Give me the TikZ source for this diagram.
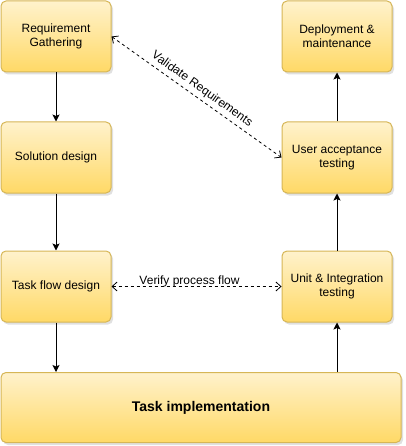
\documentclass[tikz,border=0pt]{standalone}
\usepackage{fontspec}
\setmainfont{Liberation Sans}
\usetikzlibrary{positioning,arrows.meta,shadows}
\definecolor{boxtop}{HTML}{FFF2CC}
\definecolor{boxbot}{HTML}{FFD966}
\definecolor{boxline}{HTML}{D6B656}
\begin{document}
\begin{tikzpicture}[x=1pt, y=1pt,
    every node/.style={font=\fontsize{12}{14}\selectfont, align=center},
    phase/.style={draw=boxline, line width=1pt, rounded corners=5pt, top color=boxtop, bottom color=boxbot,
        minimum width=110pt, minimum height=71pt, inner sep=0pt,
        drop shadow={shadow xshift=2pt, shadow yshift=-2.5pt, opacity=0.3, fill=black!40}},
    flow/.style={-{Stealth[length=7pt,width=7pt,inset=1.5pt]}, line width=1pt},
    check/.style={{Straight Barb[length=5pt,width=9pt]}-{Straight Barb[length=5pt,width=9pt]},
        dash pattern=on 3pt off 3pt, line width=0.8pt}]
\useasboundingbox (0,0) rectangle (405,-446);
\node [phase] (req) at (56,-36.5) {Requirement\\Gathering};
\node [phase, below=49pt of req] (sol) {Solution design};
\node [phase, below=57pt of sol] (tfd) {Task flow design};
\node [phase, right=170pt of req] (dep) {Deployment \&\\maintenance};
\node [phase, right=170pt of sol] (uat) {User acceptance\\testing};
\node [phase, right=170pt of tfd] (uit) {Unit \& Integration\\testing};
\node [phase, minimum width=400pt, minimum height=70pt, font=\fontsize{14}{16}\selectfont\bfseries,
    below=49.5pt of tfd.south west, anchor=north west] (impl) {Task implementation};

\draw [flow] (req) -- (sol);
\draw [flow] (sol) -- (tfd);
\draw [flow] (tfd) -- (tfd |- impl.north);
\draw [flow] (impl.north -| uit) -- (uit);
\draw [flow] (uit) -- (uat);
\draw [flow] (uat) -- (dep);
\draw [check] (req.east) -- node[sloped, above] {Validate Requirements} (uat.west);
\draw [check] (tfd) -- node[anchor=base, yshift=2.5pt, xshift=-7pt] {Verify process flow} (uit);
\end{tikzpicture}
\end{document}
